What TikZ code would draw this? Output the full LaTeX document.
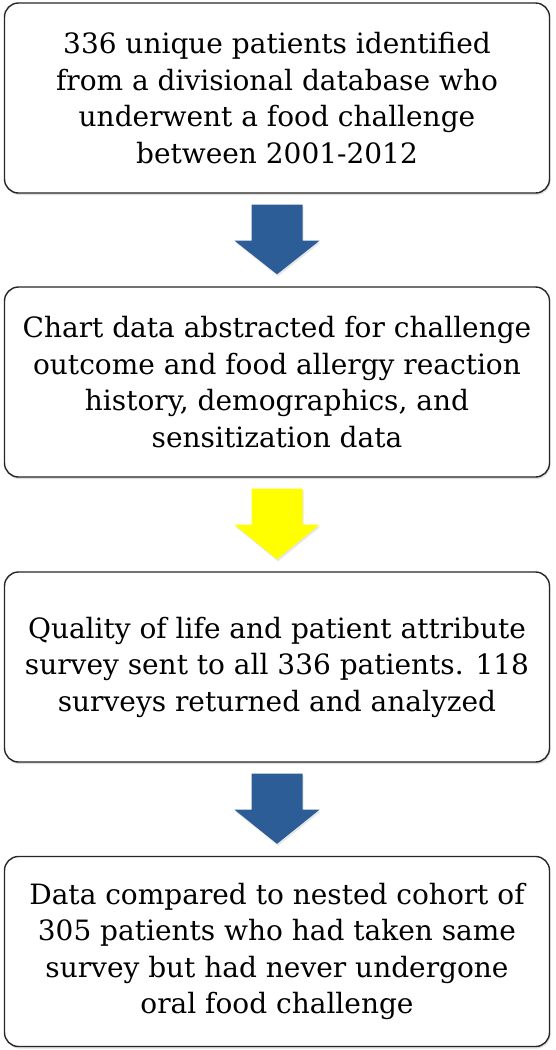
\documentclass[tikz,border=0pt]{standalone}
\usepackage{fontspec}
\setmainfont{DejaVu Serif}
\usetikzlibrary{shadows,calc}
\definecolor{arrowblue}{RGB}{44,93,150}
\definecolor{arrowyellow}{RGB}{255,255,0}
\begin{document}
\begin{tikzpicture}[x=1pt,y=-1pt,
  stepbox/.style={draw=black!85, line width=1.4pt, rounded corners=14pt,
    minimum width=545pt, minimum height=190pt, align=center, inner sep=0pt,
    font=\fontsize{28}{36.5}\selectfont, fill=white,
    drop shadow={opacity=0.25, shadow xshift=1pt, shadow yshift=-2pt}},
  blockarrow/.style={drop shadow={opacity=0.2, shadow xshift=1pt, shadow yshift=-2pt}}]
\useasboundingbox (0,0) rectangle (555,1050);
\node[stepbox] (b1) at (277,98) {336 unique patients identified\\from a divisional database who\\underwent a food challenge\\between 2001-2012};
\node[stepbox] (b2) at (277,382) {Chart data abstracted for challenge\\outcome and food allergy reaction\\history, demographics, and\\sensitization data};
\node[stepbox] (b3) at (277,667) {Quality of life and patient attribute\\survey sent to all 336 patients. 118\\surveys returned and analyzed};
\node[stepbox] (b4) at (277,951.5) {Data compared to nested cohort of\\305 patients who had taken same\\survey but had never undergone\\oral food challenge};
\foreach \a/\b/\c in {b1/b2/arrowblue, b2/b3/arrowyellow, b3/b4/arrowblue}{
  \fill[\c, blockarrow] ($(\a.south)+(-25.5,11)$) -- ($(\a.south)+(25.5,11)$)
    -- ($(\a.south)+(25.5,47)$) -- ($(\a.south)+(42.5,47)$)
    -- ($(\b.north)+(0,-12)$)
    -- ($(\a.south)+(-42.5,47)$) -- ($(\a.south)+(-25.5,47)$) -- cycle;
}
\end{tikzpicture}
\end{document}
